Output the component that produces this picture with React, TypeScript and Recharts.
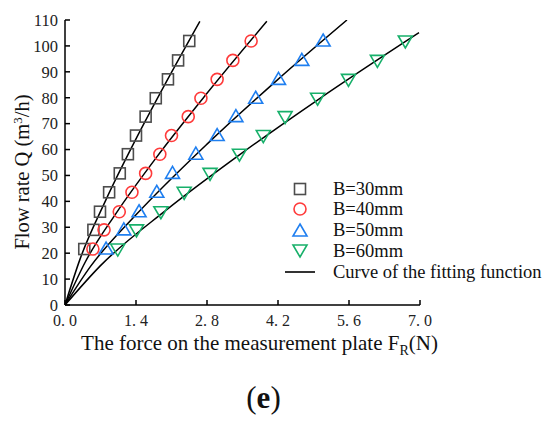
import React from 'react';
import { ComposedChart, Scatter, Line, XAxis, YAxis, Legend } from 'recharts';

// Measured points (force F_R in N, flow rate Q in m3/h)
const b30 = [
  { x: 0.38, y: 21.6 }, { x: 0.56, y: 29.0 }, { x: 0.69, y: 36.0 }, { x: 0.87, y: 43.5 },
  { x: 1.08, y: 50.8 }, { x: 1.24, y: 58.2 }, { x: 1.40, y: 65.4 }, { x: 1.59, y: 72.7 },
  { x: 1.79, y: 79.8 }, { x: 2.03, y: 87.1 }, { x: 2.23, y: 94.4 }, { x: 2.45, y: 101.9 },
];
const b40 = [
  { x: 0.55, y: 21.6 }, { x: 0.77, y: 29.0 }, { x: 1.07, y: 36.0 }, { x: 1.32, y: 43.5 },
  { x: 1.59, y: 50.8 }, { x: 1.87, y: 58.2 }, { x: 2.10, y: 65.4 }, { x: 2.43, y: 72.7 },
  { x: 2.68, y: 79.8 }, { x: 3.00, y: 87.1 }, { x: 3.31, y: 94.4 }, { x: 3.67, y: 101.9 },
];
const b50 = [
  { x: 0.81, y: 21.6 }, { x: 1.16, y: 29.0 }, { x: 1.46, y: 36.0 }, { x: 1.81, y: 43.5 },
  { x: 2.12, y: 50.8 }, { x: 2.58, y: 58.2 }, { x: 3.00, y: 65.4 }, { x: 3.37, y: 72.7 },
  { x: 3.76, y: 79.8 }, { x: 4.21, y: 87.1 }, { x: 4.67, y: 94.4 }, { x: 5.09, y: 101.9 },
];
const b60 = [
  { x: 1.04, y: 21.6 }, { x: 1.41, y: 29.0 }, { x: 1.89, y: 36.0 }, { x: 2.35, y: 43.5 },
  { x: 2.86, y: 50.8 }, { x: 3.44, y: 58.2 }, { x: 3.91, y: 65.4 }, { x: 4.34, y: 72.7 },
  { x: 4.98, y: 79.8 }, { x: 5.59, y: 87.1 }, { x: 6.16, y: 94.4 }, { x: 6.71, y: 101.9 },
];

// Fitting curves
const fit30 = [
  { x: 0, y: 0 }, { x: 0.3, y: 17.9 }, { x: 0.8, y: 40.3 }, { x: 1.4, y: 64.1 },
  { x: 2.0, y: 86.2 }, { x: 2.66, y: 109.5 },
];
const fit40 = [
  { x: 0, y: 0 }, { x: 0.4, y: 16.6 }, { x: 1.0, y: 35.2 }, { x: 1.8, y: 56.9 },
  { x: 2.8, y: 81.7 }, { x: 3.98, y: 109.5 },
];
const fit50 = [
  { x: 0, y: 0 }, { x: 0.5, y: 14.8 }, { x: 1.4, y: 34.8 }, { x: 2.8, y: 62.1 },
  { x: 4.2, y: 87.1 }, { x: 5.56, y: 110 },
];
const fit60 = [
  { x: 0, y: 0 }, { x: 0.7, y: 15.2 }, { x: 2.0, y: 36.7 }, { x: 3.5, y: 58.8 },
  { x: 5.0, y: 79.4 }, { x: 6.98, y: 105.1 },
];

const xTicks = [0, 1.4, 2.8, 4.2, 5.6, 7.0];
const yTicks = [0, 10, 20, 30, 40, 50, 60, 70, 80, 90, 100, 110];
const legendLabels = ['B=30mm', 'B=40mm', 'B=50mm', 'B=60mm', 'Curve of the fitting function'];

const C30 = '#4d4d4d';
const C40 = '#ff3b3b';
const C50 = '#1f7ff0';
const C60 = '#17b06a';
const FONT = '"Liberation Serif", "Times New Roman", serif';

const Square = ({ cx, cy, color = C30 }: any) => (
  <rect x={cx - 5.5} y={cy - 5.5} width={11} height={11} fill="none" stroke={color} strokeWidth={1.6} />
);
const Circle = ({ cx, cy, color = C40 }: any) => (
  <circle cx={cx} cy={cy} r={6} fill="none" stroke={color} strokeWidth={1.6} />
);
const TriUp = ({ cx, cy, color = C50 }: any) => (
  <path d={`M${cx},${cy - 7} L${cx + 7},${cy + 5} L${cx - 7},${cy + 5} Z`} fill="none" stroke={color} strokeWidth={1.6} />
);
const TriDown = ({ cx, cy, color = C60 }: any) => (
  <path d={`M${cx},${cy + 7} L${cx + 7},${cy - 5} L${cx - 7},${cy - 5} Z`} fill="none" stroke={color} strokeWidth={1.6} />
);

const renderLegend = () => {
  const icons = [
    (y: number) => <Square cx={12} cy={y} />,
    (y: number) => <Circle cx={12} cy={y} />,
    (y: number) => <TriUp cx={12} cy={y + 1} />,
    (y: number) => <TriDown cx={12} cy={y - 1} />,
    (y: number) => <line x1={-3} x2={27} y1={y} y2={y} stroke="#000" strokeWidth={1.6} />,
  ];
  const rows = [11, 31, 52, 73, 94];
  return (
    <svg width={262} height={110} style={{ overflow: 'visible' }}>
      {legendLabels.map((t, i) => (
        <g key={t}>
          {icons[i](rows[i])}
          <text x={45} y={rows[i]} dy="0.35em" fontFamily={FONT} fontSize={18.5} fill="#111">{t}</text>
        </g>
      ))}
    </svg>
  );
};

const XLabel = (props: any) => {
  const vb = props.viewBox || {};
  const cx = vb.x + vb.width / 2 + 17;
  const y = vb.y + 45;
  return (
    <text x={cx} y={y} textAnchor="middle" fontFamily={FONT} fontSize={21} fill="#111">
      The force on the measurement plate F
      <tspan fontSize={14} dy={5}>R</tspan>
      <tspan dy={-5}>(N)</tspan>
    </text>
  );
};

const YLabel = () => (
  <text x={22} y={172} textAnchor="middle" transform="rotate(-90 22 172)" fontFamily={FONT} fontSize={20.5} fill="#111" dy="0.35em">
    Flow rate Q (m
    <tspan fontSize={13} dy={-7}>3</tspan>
    <tspan dy={7}>/h)</tspan>
  </text>
);

export default function App() {
  return (
    <div style={{ position: 'absolute', left: 0, top: 0, width: 550, height: 425, background: '#fff' }}>
      <ComposedChart
        width={550}
        height={425}
        margin={{ top: 20, right: 130, bottom: 119, left: 64 }}
      >
        <XAxis
          type="number"
          dataKey="x"
          domain={[0, 7]}
          ticks={xTicks}
          allowDataOverflow
          height={1}
          tickSize={-5}
          tickMargin={15}
          stroke="#000"
          strokeWidth={1.5}
          tick={{ fill: '#222', fontSize: 16, fontFamily: FONT }}
          tickFormatter={(v: number) => v.toFixed(1).replace('.', '. ')}
          label={<XLabel />}
        />
        <YAxis
          type="number"
          dataKey="y"
          domain={[0, 110]}
          ticks={yTicks}
          allowDataOverflow
          width={1}
          tickSize={-5}
          tickMargin={12}
          stroke="#000"
          strokeWidth={1.5}
          tick={{ fill: '#222', fontSize: 16.5, fontFamily: FONT }}
          label={<YLabel />}
        />
        <Line data={fit30} dataKey="y" type="monotone" stroke="#000" strokeWidth={1.5} dot={false} isAnimationActive={false} legendType="none" />
        <Line data={fit40} dataKey="y" type="monotone" stroke="#000" strokeWidth={1.5} dot={false} isAnimationActive={false} legendType="none" />
        <Line data={fit50} dataKey="y" type="monotone" stroke="#000" strokeWidth={1.5} dot={false} isAnimationActive={false} legendType="none" />
        <Line data={fit60} dataKey="y" type="monotone" stroke="#000" strokeWidth={1.5} dot={false} isAnimationActive={false} legendType="none" />
        <Scatter data={b30} dataKey="y" shape={<Square />} isAnimationActive={false} />
        <Scatter data={b40} dataKey="y" shape={<Circle />} isAnimationActive={false} />
        <Scatter data={b50} dataKey="y" shape={<TriUp />} isAnimationActive={false} />
        <Scatter data={b60} dataKey="y" shape={<TriDown />} isAnimationActive={false} />
        <Legend
          layout="vertical"
          align="center"
          verticalAlign="middle"
          content={renderLegend}
          wrapperStyle={{ position: 'absolute', left: 288, top: 178, width: 262, height: 110 }}
        />
      </ComposedChart>
      <div
        style={{
          position: 'absolute',
          left: 0,
          width: 527,
          top: 380,
          textAlign: 'center',
          fontFamily: FONT,
          fontSize: 31,
          lineHeight: '36px',
          color: '#111',
        }}
      >
        (<b>e</b>)
      </div>
    </div>
  );
}
